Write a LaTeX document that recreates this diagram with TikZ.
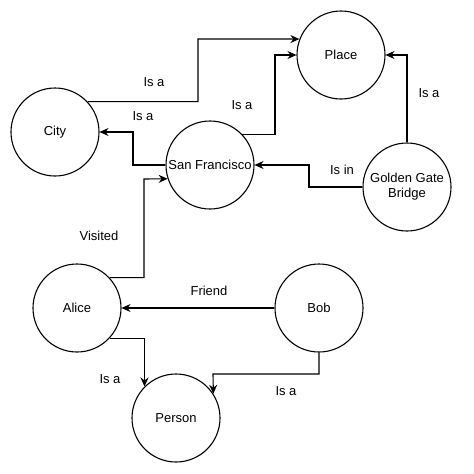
\documentclass[tikz,border=0pt]{standalone}
\usepackage{fontspec}
\setmainfont{Liberation Sans}
\usetikzlibrary{arrows.meta}

\begin{document}
\begin{tikzpicture}[x=1pt, y=-1pt, line width=1.1pt,
    font=\fontsize{13}{15}\selectfont]
    \tikzstyle{entity} = [draw, circle, minimum size=88pt, inner sep=0pt]
    \tikzstyle{link} = [-{Stealth[length=9pt,width=8pt,inset=3pt]}]
    \useasboundingbox (0, 0) rectangle (474, 474);
    % entities
    \node[entity] (place) at (341, 55) {Place};
    \node[entity] (city) at (55, 132) {City};
    \node[entity] (sf) at (210, 165) {San Francisco};
    \node[entity, align=center] (ggb) at (407, 187) {Golden Gate\\Bridge};
    \node[entity] (alice) at (77, 308) {Alice};
    \node[entity] (bob) at (319, 308) {Bob};
    \node[entity] (person) at (176, 418) {Person};
    % relations
    \draw[link] (city.43) -| (198, 39) -- (place.159);
    \draw[link] (sf.44) -| (275, 55) -- (place.west);
    \draw[link] (sf.west) -| (133, 132) -- (city.east);
    \draw[link] (ggb.north) |- (place.east);
    \draw[link] (ggb.west) -| (309, 165) -- (sf.east);
    \draw[link] (alice.43) -| (144, 179) -- (sf.198);
    \draw[link] (bob.west) -- (alice.east);
    \draw[link] (alice.317) -| (person.135);
    \draw[link] (bob.south) |- (213, 374) -- (person.33);
    % labels
    \node (isa1) at (154, 82) {Is a};
    \node (isa2) at (242, 105) {Is a};
    \node (isa3) at (143, 116) {Is a};
    \node (isa4) at (429, 93) {Is a};
    \node (isin) at (342, 170) {Is in};
    \node (visited) at (99, 236) {Visited};
    \node (friend) at (209, 291) {Friend};
    \node (isa5) at (110, 379) {Is a};
    \node (isa6) at (286, 391) {Is a};
\end{tikzpicture}
\end{document}
